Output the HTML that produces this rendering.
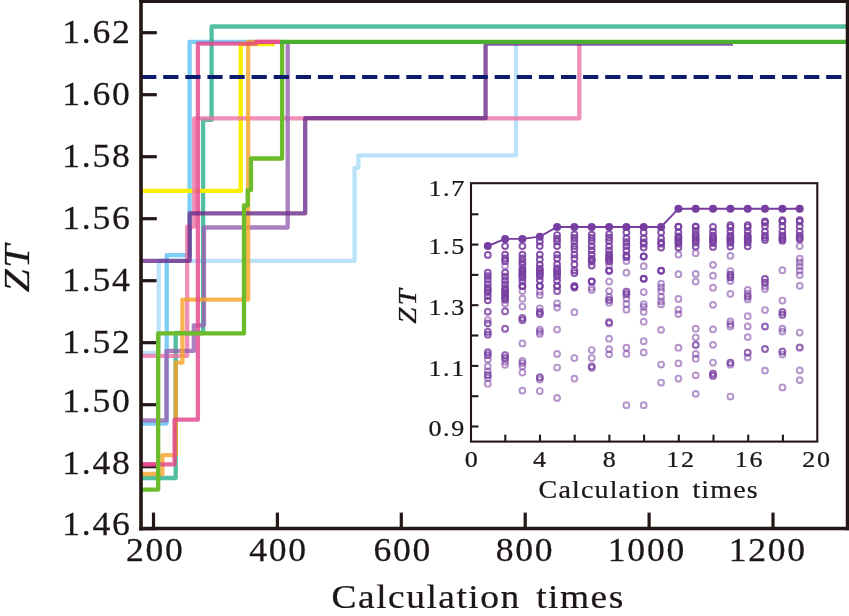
<!DOCTYPE html>
<html><head><meta charset="utf-8"><title>ZT vs calculation times</title>
<style>
html,body{margin:0;padding:0;background:#fff}
svg{display:block}
text{font-family:"Liberation Serif","DejaVu Serif",serif;fill:#1c1614;stroke:#1c1614;stroke-width:0.25px}
.it{font-style:italic}
</style></head><body>
<svg width="849" height="616" viewBox="0 0 849 616">
<rect width="849" height="616" fill="#fff"/>
<g stroke="#231815" stroke-width="3.2" fill="none">
<line x1="141" y1="32.7" x2="156.8" y2="32.7"/>
<line x1="141" y1="94.7" x2="156.8" y2="94.7"/>
<line x1="141" y1="156.7" x2="156.8" y2="156.7"/>
<line x1="141" y1="218.7" x2="156.8" y2="218.7"/>
<line x1="141" y1="280.7" x2="156.8" y2="280.7"/>
<line x1="141" y1="342.7" x2="156.8" y2="342.7"/>
<line x1="141" y1="404.7" x2="156.8" y2="404.7"/>
<line x1="141" y1="466.7" x2="156.8" y2="466.7"/>
<line x1="141" y1="528.7" x2="156.8" y2="528.7"/>
<line x1="153.5" y1="512.6" x2="153.5" y2="528.7"/>
<line x1="277.4" y1="512.6" x2="277.4" y2="528.7"/>
<line x1="401.3" y1="512.6" x2="401.3" y2="528.7"/>
<line x1="525.2" y1="512.6" x2="525.2" y2="528.7"/>
<line x1="649.1" y1="512.6" x2="649.1" y2="528.7"/>
<line x1="773.0" y1="512.6" x2="773.0" y2="528.7"/>
</g>
<g fill="none" stroke-width="4.3" stroke-linejoin="round" stroke-linecap="butt" opacity="1">
<path d="M141,352.8 H158.7 V260.8 H354.6 V167.8 H358.4 V155.3 H516 V43" stroke="#a9dcf8" stroke-opacity="0.80"/>
<path d="M141,423.5 H166.7 V255.2 H189.6 V41.9 H257" stroke="#5ec2f1" stroke-opacity="0.80"/>
<path d="M141,478 H175.7 V333 H203.1 V119.9 H211.6 V26.5 H847" stroke="#27af88" stroke-opacity="0.80"/>
<path d="M141,190.9 H240.7 V44 H274.8" stroke="#f8ee00" stroke-opacity="1.00"/>
<path d="M141,355.8 H187.2 V226.7 H194.2 V118.4 H579.3 V43" stroke="#ec73a6" stroke-opacity="0.80"/>
<path d="M141,420.4 H166.5 V350.9 H193.8 V325.3 H204 V227.5 H287.7 V42.5" stroke="#9660b0" stroke-opacity="0.80"/>
<path d="M141,474 H162.4 V455.1 H175.8 V362.6 H182.4 V299.7 H248.1 V41.9 H257" stroke="#f6a226" stroke-opacity="0.80"/>
<path d="M141,464.4 H158.2" stroke="#e5428b" stroke-opacity="0.80"/>
<path d="M141,464.4 H174.6 V419.7 H197.9 V43.6 H256.3 V41.9 H280" stroke="#e5428b" stroke-opacity="0.80"/>
<path d="M141,260.8 H189.7 V213.3 H305.2 V118.2 H485.6 V43.6 H733" stroke="#6c2d8a" stroke-opacity="0.80"/>
<path d="M141,489.6 H158.2 V333.4 H244 V205.5 H247.7 V190.2 H251 V158.5 H282.1 V41.9 H284" stroke="#6cbb2a" stroke-opacity="1.00"/>
<path d="M280,41.9 H847" stroke="#4aae30" stroke-opacity="1.00"/>
<path d="M257,41.9 H280" stroke="#e8528a" stroke-opacity="1.00"/>
</g>
<line x1="141.1" y1="76.9" x2="846" y2="76.9" stroke="#0c1b6d" stroke-width="4" stroke-dasharray="15.2 6.9"/>
<g stroke="#231815" fill="none">
<line x1="141" y1="0" x2="141" y2="530.4" stroke-width="3.6"/>
<line x1="139.2" y1="528.5" x2="849" y2="528.5" stroke-width="3.6"/>
<line x1="139.2" y1="1.3" x2="849" y2="1.3" stroke-width="3.4"/>
<line x1="847.5" y1="0" x2="847.5" y2="530.3" stroke-width="3.5"/>
</g>
<text transform="translate(131.5,42.5) scale(1.080,1)" font-size="33" letter-spacing="1.6" text-anchor="end">1.62</text>
<text transform="translate(131.5,104.9) scale(1.080,1)" font-size="33" letter-spacing="1.6" text-anchor="end">1.60</text>
<text transform="translate(131.5,166.6) scale(1.080,1)" font-size="33" letter-spacing="1.6" text-anchor="end">1.58</text>
<text transform="translate(131.5,229.1) scale(1.080,1)" font-size="33" letter-spacing="1.6" text-anchor="end">1.56</text>
<text transform="translate(131.5,290.9) scale(1.080,1)" font-size="33" letter-spacing="1.6" text-anchor="end">1.54</text>
<text transform="translate(131.5,352.5) scale(1.080,1)" font-size="33" letter-spacing="1.6" text-anchor="end">1.52</text>
<text transform="translate(131.5,412.2) scale(1.080,1)" font-size="33" letter-spacing="1.6" text-anchor="end">1.50</text>
<text transform="translate(131.5,474.3) scale(1.080,1)" font-size="33" letter-spacing="1.6" text-anchor="end">1.48</text>
<text transform="translate(131.5,534.9) scale(1.080,1)" font-size="33" letter-spacing="1.6" text-anchor="end">1.46</text>
<text transform="translate(155.2,561.2) scale(1.080,1)" font-size="33" letter-spacing="1.6" text-anchor="middle">200</text>
<text transform="translate(278.6,561.2) scale(1.080,1)" font-size="33" letter-spacing="1.6" text-anchor="middle">400</text>
<text transform="translate(402.8,561.2) scale(1.080,1)" font-size="33" letter-spacing="1.6" text-anchor="middle">600</text>
<text transform="translate(525.0,561.2) scale(1.080,1)" font-size="33" letter-spacing="1.6" text-anchor="middle">800</text>
<text transform="translate(646.9,561.2) scale(1.080,1)" font-size="33" letter-spacing="1.6" text-anchor="middle">1000</text>
<text transform="translate(767.8,561.2) scale(1.080,1)" font-size="33" letter-spacing="1.6" text-anchor="middle">1200</text>
<text transform="translate(331.6,607.6) scale(1.1,1)" font-size="34" letter-spacing="1.38" word-spacing="4.2">Calculation times</text>
<text class="it" transform="translate(28.7,268) rotate(-90) scale(1.15,1)" text-anchor="middle" font-size="36" letter-spacing="1">ZT</text>
<g stroke="#231815" stroke-width="2.1" fill="none">
<rect x="471.0" y="183.2" width="346.3" height="258.4" fill="#fff"/>
<line x1="471.0" y1="214.3" x2="478.4" y2="214.3"/>
<line x1="471.0" y1="244.6" x2="478.4" y2="244.6"/>
<line x1="471.0" y1="274.9" x2="478.4" y2="274.9"/>
<line x1="471.0" y1="305.2" x2="478.4" y2="305.2"/>
<line x1="471.0" y1="335.5" x2="478.4" y2="335.5"/>
<line x1="471.0" y1="365.9" x2="478.4" y2="365.9"/>
<line x1="471.0" y1="396.2" x2="478.4" y2="396.2"/>
<line x1="471.0" y1="426.5" x2="478.4" y2="426.5"/>
<line x1="505.3" y1="441.6" x2="505.3" y2="434.6"/>
<line x1="540.0" y1="441.6" x2="540.0" y2="434.6"/>
<line x1="574.7" y1="441.6" x2="574.7" y2="434.6"/>
<line x1="609.4" y1="441.6" x2="609.4" y2="434.6"/>
<line x1="644.1" y1="441.6" x2="644.1" y2="434.6"/>
<line x1="678.8" y1="441.6" x2="678.8" y2="434.6"/>
<line x1="713.5" y1="441.6" x2="713.5" y2="434.6"/>
<line x1="748.2" y1="441.6" x2="748.2" y2="434.6"/>
<line x1="782.9" y1="441.6" x2="782.9" y2="434.6"/>
</g>
<g fill="none" stroke="#773da0" stroke-width="1.95">
<circle cx="487.8" cy="254.9" r="2.9" stroke-opacity="0.88"/><circle cx="487.8" cy="272.6" r="2.9" stroke-opacity="0.88"/><circle cx="487.8" cy="276.1" r="2.9" stroke-opacity="0.88"/><circle cx="487.8" cy="279.7" r="2.9" stroke-opacity="0.88"/><circle cx="487.8" cy="284.0" r="2.9" stroke-opacity="0.88"/><circle cx="487.8" cy="287.9" r="2.9" stroke-opacity="0.88"/><circle cx="487.8" cy="290.0" r="2.9" stroke-opacity="0.88"/><circle cx="487.8" cy="292.1" r="2.9" stroke-opacity="0.88"/><circle cx="487.8" cy="296.0" r="2.9" stroke-opacity="0.88"/><circle cx="487.8" cy="300.3" r="2.9" stroke-opacity="0.88"/><circle cx="487.8" cy="311.6" r="2.9" stroke-opacity="0.55"/><circle cx="487.8" cy="311.8" r="2.9" stroke-opacity="0.55"/><circle cx="487.8" cy="320.0" r="2.9" stroke-opacity="0.55"/><circle cx="487.8" cy="323.3" r="2.9" stroke-opacity="0.55"/><circle cx="487.8" cy="323.5" r="2.9" stroke-opacity="0.55"/><circle cx="487.8" cy="331.7" r="2.9" stroke-opacity="0.55"/><circle cx="487.8" cy="331.9" r="2.9" stroke-opacity="0.55"/><circle cx="487.8" cy="334.6" r="2.9" stroke-opacity="0.55"/><circle cx="487.8" cy="334.8" r="2.9" stroke-opacity="0.55"/><circle cx="487.8" cy="352.1" r="2.9" stroke-opacity="0.55"/><circle cx="487.8" cy="352.3" r="2.9" stroke-opacity="0.55"/><circle cx="487.8" cy="355.0" r="2.9" stroke-opacity="0.55"/><circle cx="487.8" cy="355.2" r="2.9" stroke-opacity="0.55"/><circle cx="487.8" cy="359.4" r="2.9" stroke-opacity="0.55"/><circle cx="487.8" cy="366.3" r="2.9" stroke-opacity="0.55"/><circle cx="487.8" cy="371.3" r="2.9" stroke-opacity="0.55"/><circle cx="487.8" cy="375.0" r="2.9" stroke-opacity="0.55"/><circle cx="487.8" cy="375.2" r="2.9" stroke-opacity="0.55"/><circle cx="487.8" cy="378.2" r="2.9" stroke-opacity="0.55"/><circle cx="487.8" cy="383.7" r="2.9" stroke-opacity="0.55"/>
<circle cx="505.1" cy="246.1" r="2.9" stroke-opacity="0.88"/><circle cx="505.1" cy="254.6" r="2.9" stroke-opacity="0.88"/><circle cx="505.1" cy="258.4" r="2.9" stroke-opacity="0.88"/><circle cx="505.1" cy="261.2" r="2.9" stroke-opacity="0.88"/><circle cx="505.1" cy="265.9" r="2.9" stroke-opacity="0.55"/><circle cx="505.1" cy="272.6" r="2.9" stroke-opacity="0.88"/><circle cx="505.1" cy="276.5" r="2.9" stroke-opacity="0.88"/><circle cx="505.1" cy="280.4" r="2.9" stroke-opacity="0.88"/><circle cx="505.1" cy="284.3" r="2.9" stroke-opacity="0.88"/><circle cx="505.1" cy="288.2" r="2.9" stroke-opacity="0.88"/><circle cx="505.1" cy="290.1" r="2.9" stroke-opacity="0.88"/><circle cx="505.1" cy="292.0" r="2.9" stroke-opacity="0.88"/><circle cx="505.1" cy="293.9" r="2.9" stroke-opacity="0.88"/><circle cx="505.1" cy="295.9" r="2.9" stroke-opacity="0.88"/><circle cx="505.1" cy="297.8" r="2.9" stroke-opacity="0.88"/><circle cx="505.1" cy="299.7" r="2.9" stroke-opacity="0.88"/><circle cx="505.1" cy="303.6" r="2.9" stroke-opacity="0.55"/><circle cx="505.1" cy="311.2" r="2.9" stroke-opacity="0.55"/><circle cx="505.1" cy="311.4" r="2.9" stroke-opacity="0.55"/><circle cx="505.1" cy="328.7" r="2.9" stroke-opacity="0.55"/><circle cx="505.1" cy="328.9" r="2.9" stroke-opacity="0.55"/><circle cx="505.1" cy="355.0" r="2.9" stroke-opacity="0.55"/><circle cx="505.1" cy="355.2" r="2.9" stroke-opacity="0.55"/><circle cx="505.1" cy="358.0" r="2.9" stroke-opacity="0.55"/><circle cx="505.1" cy="358.2" r="2.9" stroke-opacity="0.55"/><circle cx="505.1" cy="361.6" r="2.9" stroke-opacity="0.55"/><circle cx="505.1" cy="364.8" r="2.9" stroke-opacity="0.55"/>
<circle cx="522.4" cy="246.1" r="2.9" stroke-opacity="0.88"/><circle cx="522.4" cy="254.6" r="2.9" stroke-opacity="0.88"/><circle cx="522.4" cy="258.4" r="2.9" stroke-opacity="0.88"/><circle cx="522.4" cy="261.9" r="2.9" stroke-opacity="0.88"/><circle cx="522.4" cy="264.9" r="2.9" stroke-opacity="0.88"/><circle cx="522.4" cy="268.8" r="2.9" stroke-opacity="0.88"/><circle cx="522.4" cy="270.6" r="2.9" stroke-opacity="0.88"/><circle cx="522.4" cy="272.4" r="2.9" stroke-opacity="0.88"/><circle cx="522.4" cy="274.1" r="2.9" stroke-opacity="0.88"/><circle cx="522.4" cy="275.9" r="2.9" stroke-opacity="0.88"/><circle cx="522.4" cy="277.7" r="2.9" stroke-opacity="0.88"/><circle cx="522.4" cy="281.6" r="2.9" stroke-opacity="0.88"/><circle cx="522.4" cy="286.0" r="2.9" stroke-opacity="0.88"/><circle cx="522.4" cy="286.2" r="2.9" stroke-opacity="0.88"/><circle cx="522.4" cy="291.0" r="2.9" stroke-opacity="0.55"/><circle cx="522.4" cy="298.7" r="2.9" stroke-opacity="0.55"/><circle cx="522.4" cy="306.5" r="2.9" stroke-opacity="0.55"/><circle cx="522.4" cy="317.8" r="2.9" stroke-opacity="0.55"/><circle cx="522.4" cy="318.0" r="2.9" stroke-opacity="0.55"/><circle cx="522.4" cy="320.0" r="2.9" stroke-opacity="0.55"/><circle cx="522.4" cy="320.2" r="2.9" stroke-opacity="0.55"/><circle cx="522.4" cy="343.4" r="2.9" stroke-opacity="0.55"/><circle cx="522.4" cy="360.9" r="2.9" stroke-opacity="0.55"/><circle cx="522.4" cy="363.1" r="2.9" stroke-opacity="0.55"/><circle cx="522.4" cy="366.2" r="2.9" stroke-opacity="0.55"/><circle cx="522.4" cy="372.5" r="2.9" stroke-opacity="0.55"/><circle cx="522.4" cy="390.6" r="2.9" stroke-opacity="0.55"/>
<circle cx="539.8" cy="241.4" r="2.9" stroke-opacity="0.88"/><circle cx="539.8" cy="246.1" r="2.9" stroke-opacity="0.88"/><circle cx="539.8" cy="254.6" r="2.9" stroke-opacity="0.88"/><circle cx="539.8" cy="259.4" r="2.9" stroke-opacity="0.88"/><circle cx="539.8" cy="264.6" r="2.9" stroke-opacity="0.88"/><circle cx="539.8" cy="268.5" r="2.9" stroke-opacity="0.88"/><circle cx="539.8" cy="270.4" r="2.9" stroke-opacity="0.88"/><circle cx="539.8" cy="272.3" r="2.9" stroke-opacity="0.88"/><circle cx="539.8" cy="274.2" r="2.9" stroke-opacity="0.88"/><circle cx="539.8" cy="276.1" r="2.9" stroke-opacity="0.88"/><circle cx="539.8" cy="280.0" r="2.9" stroke-opacity="0.88"/><circle cx="539.8" cy="286.0" r="2.9" stroke-opacity="0.88"/><circle cx="539.8" cy="286.2" r="2.9" stroke-opacity="0.88"/><circle cx="539.8" cy="291.7" r="2.9" stroke-opacity="0.55"/><circle cx="539.8" cy="295.2" r="2.9" stroke-opacity="0.55"/><circle cx="539.8" cy="308.3" r="2.9" stroke-opacity="0.55"/><circle cx="539.8" cy="311.9" r="2.9" stroke-opacity="0.55"/><circle cx="539.8" cy="312.1" r="2.9" stroke-opacity="0.55"/><circle cx="539.8" cy="314.1" r="2.9" stroke-opacity="0.55"/><circle cx="539.8" cy="314.3" r="2.9" stroke-opacity="0.55"/><circle cx="539.8" cy="329.5" r="2.9" stroke-opacity="0.55"/><circle cx="539.8" cy="331.7" r="2.9" stroke-opacity="0.55"/><circle cx="539.8" cy="333.9" r="2.9" stroke-opacity="0.55"/><circle cx="539.8" cy="377.2" r="2.9" stroke-opacity="0.55"/><circle cx="539.8" cy="377.4" r="2.9" stroke-opacity="0.55"/><circle cx="539.8" cy="379.6" r="2.9" stroke-opacity="0.55"/><circle cx="539.8" cy="391.0" r="2.9" stroke-opacity="0.55"/>
<circle cx="557.1" cy="235.0" r="2.9" stroke-opacity="0.88"/><circle cx="557.1" cy="238.6" r="2.9" stroke-opacity="0.88"/><circle cx="557.1" cy="241.4" r="2.9" stroke-opacity="0.88"/><circle cx="557.1" cy="246.1" r="2.9" stroke-opacity="0.88"/><circle cx="557.1" cy="254.6" r="2.9" stroke-opacity="0.88"/><circle cx="557.1" cy="258.4" r="2.9" stroke-opacity="0.88"/><circle cx="557.1" cy="264.4" r="2.9" stroke-opacity="0.88"/><circle cx="557.1" cy="268.3" r="2.9" stroke-opacity="0.88"/><circle cx="557.1" cy="270.4" r="2.9" stroke-opacity="0.88"/><circle cx="557.1" cy="272.5" r="2.9" stroke-opacity="0.88"/><circle cx="557.1" cy="274.5" r="2.9" stroke-opacity="0.88"/><circle cx="557.1" cy="276.6" r="2.9" stroke-opacity="0.88"/><circle cx="557.1" cy="280.5" r="2.9" stroke-opacity="0.88"/><circle cx="557.1" cy="286.0" r="2.9" stroke-opacity="0.88"/><circle cx="557.1" cy="286.2" r="2.9" stroke-opacity="0.88"/><circle cx="557.1" cy="291.0" r="2.9" stroke-opacity="0.55"/><circle cx="557.1" cy="291.2" r="2.9" stroke-opacity="0.55"/><circle cx="557.1" cy="303.3" r="2.9" stroke-opacity="0.55"/><circle cx="557.1" cy="307.6" r="2.9" stroke-opacity="0.55"/><circle cx="557.1" cy="329.5" r="2.9" stroke-opacity="0.55"/><circle cx="557.1" cy="353.9" r="2.9" stroke-opacity="0.55"/><circle cx="557.1" cy="367.5" r="2.9" stroke-opacity="0.55"/><circle cx="557.1" cy="397.9" r="2.9" stroke-opacity="0.55"/>
<circle cx="574.4" cy="234.4" r="2.9" stroke-opacity="0.88"/><circle cx="574.4" cy="237.9" r="2.9" stroke-opacity="0.88"/><circle cx="574.4" cy="241.4" r="2.9" stroke-opacity="0.88"/><circle cx="574.4" cy="246.1" r="2.9" stroke-opacity="0.88"/><circle cx="574.4" cy="249.2" r="2.9" stroke-opacity="0.88"/><circle cx="574.4" cy="254.6" r="2.9" stroke-opacity="0.88"/><circle cx="574.4" cy="258.4" r="2.9" stroke-opacity="0.88"/><circle cx="574.4" cy="264.4" r="2.9" stroke-opacity="0.88"/><circle cx="574.4" cy="270.3" r="2.9" stroke-opacity="0.88"/><circle cx="574.4" cy="273.0" r="2.9" stroke-opacity="0.88"/><circle cx="574.4" cy="286.1" r="2.9" stroke-opacity="0.88"/><circle cx="574.4" cy="286.3" r="2.9" stroke-opacity="0.88"/><circle cx="574.4" cy="287.6" r="2.9" stroke-opacity="0.88"/><circle cx="574.4" cy="312.2" r="2.9" stroke-opacity="0.55"/><circle cx="574.4" cy="358.0" r="2.9" stroke-opacity="0.55"/><circle cx="574.4" cy="378.6" r="2.9" stroke-opacity="0.55"/>
<circle cx="591.7" cy="234.6" r="2.9" stroke-opacity="0.88"/><circle cx="591.7" cy="237.9" r="2.9" stroke-opacity="0.88"/><circle cx="591.7" cy="241.3" r="2.9" stroke-opacity="0.88"/><circle cx="591.7" cy="246.1" r="2.9" stroke-opacity="0.88"/><circle cx="591.7" cy="250.2" r="2.9" stroke-opacity="0.88"/><circle cx="591.7" cy="254.6" r="2.9" stroke-opacity="0.88"/><circle cx="591.7" cy="258.5" r="2.9" stroke-opacity="0.88"/><circle cx="591.7" cy="260.1" r="2.9" stroke-opacity="0.88"/><circle cx="591.7" cy="261.6" r="2.9" stroke-opacity="0.88"/><circle cx="591.7" cy="265.5" r="2.9" stroke-opacity="0.88"/><circle cx="591.7" cy="281.3" r="2.9" stroke-opacity="0.88"/><circle cx="591.7" cy="281.5" r="2.9" stroke-opacity="0.88"/><circle cx="591.7" cy="287.6" r="2.9" stroke-opacity="0.55"/><circle cx="591.7" cy="290.0" r="2.9" stroke-opacity="0.55"/><circle cx="591.7" cy="350.0" r="2.9" stroke-opacity="0.55"/><circle cx="591.7" cy="358.0" r="2.9" stroke-opacity="0.55"/><circle cx="591.7" cy="366.3" r="2.9" stroke-opacity="0.55"/><circle cx="591.7" cy="366.5" r="2.9" stroke-opacity="0.55"/><circle cx="591.7" cy="368.0" r="2.9" stroke-opacity="0.55"/>
<circle cx="609.1" cy="234.1" r="2.9" stroke-opacity="0.88"/><circle cx="609.1" cy="237.7" r="2.9" stroke-opacity="0.88"/><circle cx="609.1" cy="241.2" r="2.9" stroke-opacity="0.88"/><circle cx="609.1" cy="246.1" r="2.9" stroke-opacity="0.88"/><circle cx="609.1" cy="250.4" r="2.9" stroke-opacity="0.88"/><circle cx="609.1" cy="254.3" r="2.9" stroke-opacity="0.88"/><circle cx="609.1" cy="256.1" r="2.9" stroke-opacity="0.88"/><circle cx="609.1" cy="257.9" r="2.9" stroke-opacity="0.88"/><circle cx="609.1" cy="259.7" r="2.9" stroke-opacity="0.88"/><circle cx="609.1" cy="261.5" r="2.9" stroke-opacity="0.88"/><circle cx="609.1" cy="265.2" r="2.9" stroke-opacity="0.55"/><circle cx="609.1" cy="270.6" r="2.9" stroke-opacity="0.88"/><circle cx="609.1" cy="270.8" r="2.9" stroke-opacity="0.88"/><circle cx="609.1" cy="281.5" r="2.9" stroke-opacity="0.55"/><circle cx="609.1" cy="291.0" r="2.9" stroke-opacity="0.55"/><circle cx="609.1" cy="296.9" r="2.9" stroke-opacity="0.55"/><circle cx="609.1" cy="299.9" r="2.9" stroke-opacity="0.55"/><circle cx="609.1" cy="300.1" r="2.9" stroke-opacity="0.55"/><circle cx="609.1" cy="302.7" r="2.9" stroke-opacity="0.55"/><circle cx="609.1" cy="322.2" r="2.9" stroke-opacity="0.55"/><circle cx="609.1" cy="322.4" r="2.9" stroke-opacity="0.55"/><circle cx="609.1" cy="323.5" r="2.9" stroke-opacity="0.55"/><circle cx="609.1" cy="338.7" r="2.9" stroke-opacity="0.55"/><circle cx="609.1" cy="349.2" r="2.9" stroke-opacity="0.55"/><circle cx="609.1" cy="354.3" r="2.9" stroke-opacity="0.55"/>
<circle cx="626.4" cy="232.4" r="2.9" stroke-opacity="0.88"/><circle cx="626.4" cy="238.4" r="2.9" stroke-opacity="0.88"/><circle cx="626.4" cy="242.2" r="2.9" stroke-opacity="0.88"/><circle cx="626.4" cy="246.1" r="2.9" stroke-opacity="0.88"/><circle cx="626.4" cy="250.4" r="2.9" stroke-opacity="0.88"/><circle cx="626.4" cy="255.3" r="2.9" stroke-opacity="0.88"/><circle cx="626.4" cy="257.2" r="2.9" stroke-opacity="0.88"/><circle cx="626.4" cy="261.0" r="2.9" stroke-opacity="0.55"/><circle cx="626.4" cy="272.7" r="2.9" stroke-opacity="0.55"/><circle cx="626.4" cy="291.5" r="2.9" stroke-opacity="0.55"/><circle cx="626.4" cy="291.7" r="2.9" stroke-opacity="0.55"/><circle cx="626.4" cy="294.2" r="2.9" stroke-opacity="0.55"/><circle cx="626.4" cy="294.4" r="2.9" stroke-opacity="0.55"/><circle cx="626.4" cy="298.5" r="2.9" stroke-opacity="0.55"/><circle cx="626.4" cy="304.0" r="2.9" stroke-opacity="0.55"/><circle cx="626.4" cy="309.7" r="2.9" stroke-opacity="0.55"/><circle cx="626.4" cy="347.7" r="2.9" stroke-opacity="0.55"/><circle cx="626.4" cy="353.9" r="2.9" stroke-opacity="0.55"/><circle cx="626.4" cy="405.2" r="2.9" stroke-opacity="0.55"/>
<circle cx="643.7" cy="232.4" r="2.9" stroke-opacity="0.88"/><circle cx="643.7" cy="238.4" r="2.9" stroke-opacity="0.88"/><circle cx="643.7" cy="242.3" r="2.9" stroke-opacity="0.88"/><circle cx="643.7" cy="243.7" r="2.9" stroke-opacity="0.88"/><circle cx="643.7" cy="247.6" r="2.9" stroke-opacity="0.88"/><circle cx="643.7" cy="256.3" r="2.9" stroke-opacity="0.88"/><circle cx="643.7" cy="256.5" r="2.9" stroke-opacity="0.88"/><circle cx="643.7" cy="266.2" r="2.9" stroke-opacity="0.55"/><circle cx="643.7" cy="278.6" r="2.9" stroke-opacity="0.88"/><circle cx="643.7" cy="278.8" r="2.9" stroke-opacity="0.88"/><circle cx="643.7" cy="292.0" r="2.9" stroke-opacity="0.55"/><circle cx="643.7" cy="304.0" r="2.9" stroke-opacity="0.55"/><circle cx="643.7" cy="306.8" r="2.9" stroke-opacity="0.55"/><circle cx="643.7" cy="311.9" r="2.9" stroke-opacity="0.55"/><circle cx="643.7" cy="321.7" r="2.9" stroke-opacity="0.55"/><circle cx="643.7" cy="341.2" r="2.9" stroke-opacity="0.55"/><circle cx="643.7" cy="352.4" r="2.9" stroke-opacity="0.55"/><circle cx="643.7" cy="405.2" r="2.9" stroke-opacity="0.55"/>
<circle cx="661.1" cy="232.4" r="2.9" stroke-opacity="0.88"/><circle cx="661.1" cy="238.4" r="2.9" stroke-opacity="0.88"/><circle cx="661.1" cy="242.3" r="2.9" stroke-opacity="0.88"/><circle cx="661.1" cy="243.7" r="2.9" stroke-opacity="0.88"/><circle cx="661.1" cy="247.6" r="2.9" stroke-opacity="0.88"/><circle cx="661.1" cy="270.6" r="2.9" stroke-opacity="0.88"/><circle cx="661.1" cy="270.8" r="2.9" stroke-opacity="0.88"/><circle cx="661.1" cy="283.7" r="2.9" stroke-opacity="0.55"/><circle cx="661.1" cy="287.4" r="2.9" stroke-opacity="0.55"/><circle cx="661.1" cy="291.0" r="2.9" stroke-opacity="0.55"/><circle cx="661.1" cy="296.8" r="2.9" stroke-opacity="0.55"/><circle cx="661.1" cy="301.3" r="2.9" stroke-opacity="0.55"/><circle cx="661.1" cy="304.4" r="2.9" stroke-opacity="0.55"/><circle cx="661.1" cy="329.8" r="2.9" stroke-opacity="0.55"/><circle cx="661.1" cy="364.5" r="2.9" stroke-opacity="0.55"/><circle cx="661.1" cy="382.5" r="2.9" stroke-opacity="0.55"/>
<circle cx="678.4" cy="226.6" r="2.9" stroke-opacity="0.88"/><circle cx="678.4" cy="226.8" r="2.9" stroke-opacity="0.88"/><circle cx="678.4" cy="232.4" r="2.9" stroke-opacity="0.88"/><circle cx="678.4" cy="236.3" r="2.9" stroke-opacity="0.88"/><circle cx="678.4" cy="238.2" r="2.9" stroke-opacity="0.88"/><circle cx="678.4" cy="240.0" r="2.9" stroke-opacity="0.88"/><circle cx="678.4" cy="241.8" r="2.9" stroke-opacity="0.88"/><circle cx="678.4" cy="243.7" r="2.9" stroke-opacity="0.88"/><circle cx="678.4" cy="247.6" r="2.9" stroke-opacity="0.88"/><circle cx="678.4" cy="254.6" r="2.9" stroke-opacity="0.55"/><circle cx="678.4" cy="274.2" r="2.9" stroke-opacity="0.55"/><circle cx="678.4" cy="298.9" r="2.9" stroke-opacity="0.55"/><circle cx="678.4" cy="309.7" r="2.9" stroke-opacity="0.55"/><circle cx="678.4" cy="314.1" r="2.9" stroke-opacity="0.55"/><circle cx="678.4" cy="347.7" r="2.9" stroke-opacity="0.55"/><circle cx="678.4" cy="363.3" r="2.9" stroke-opacity="0.55"/><circle cx="678.4" cy="378.5" r="2.9" stroke-opacity="0.55"/>
<circle cx="695.7" cy="226.6" r="2.9" stroke-opacity="0.88"/><circle cx="695.7" cy="226.8" r="2.9" stroke-opacity="0.88"/><circle cx="695.7" cy="230.6" r="2.9" stroke-opacity="0.88"/><circle cx="695.7" cy="234.5" r="2.9" stroke-opacity="0.88"/><circle cx="695.7" cy="236.5" r="2.9" stroke-opacity="0.88"/><circle cx="695.7" cy="238.6" r="2.9" stroke-opacity="0.88"/><circle cx="695.7" cy="240.6" r="2.9" stroke-opacity="0.88"/><circle cx="695.7" cy="242.6" r="2.9" stroke-opacity="0.88"/><circle cx="695.7" cy="246.5" r="2.9" stroke-opacity="0.88"/><circle cx="695.7" cy="253.2" r="2.9" stroke-opacity="0.55"/><circle cx="695.7" cy="273.9" r="2.9" stroke-opacity="0.55"/><circle cx="695.7" cy="281.5" r="2.9" stroke-opacity="0.55"/><circle cx="695.7" cy="328.7" r="2.9" stroke-opacity="0.55"/><circle cx="695.7" cy="337.5" r="2.9" stroke-opacity="0.55"/><circle cx="695.7" cy="344.8" r="2.9" stroke-opacity="0.55"/><circle cx="695.7" cy="345.0" r="2.9" stroke-opacity="0.55"/><circle cx="695.7" cy="353.9" r="2.9" stroke-opacity="0.55"/><circle cx="695.7" cy="358.7" r="2.9" stroke-opacity="0.55"/><circle cx="695.7" cy="375.3" r="2.9" stroke-opacity="0.55"/><circle cx="695.7" cy="393.8" r="2.9" stroke-opacity="0.55"/>
<circle cx="713.0" cy="226.9" r="2.9" stroke-opacity="0.88"/><circle cx="713.0" cy="231.6" r="2.9" stroke-opacity="0.88"/><circle cx="713.0" cy="235.5" r="2.9" stroke-opacity="0.88"/><circle cx="713.0" cy="237.4" r="2.9" stroke-opacity="0.88"/><circle cx="713.0" cy="239.2" r="2.9" stroke-opacity="0.88"/><circle cx="713.0" cy="241.1" r="2.9" stroke-opacity="0.88"/><circle cx="713.0" cy="243.0" r="2.9" stroke-opacity="0.88"/><circle cx="713.0" cy="246.9" r="2.9" stroke-opacity="0.88"/><circle cx="713.0" cy="264.8" r="2.9" stroke-opacity="0.55"/><circle cx="713.0" cy="275.7" r="2.9" stroke-opacity="0.55"/><circle cx="713.0" cy="287.7" r="2.9" stroke-opacity="0.55"/><circle cx="713.0" cy="304.8" r="2.9" stroke-opacity="0.55"/><circle cx="713.0" cy="329.3" r="2.9" stroke-opacity="0.55"/><circle cx="713.0" cy="344.8" r="2.9" stroke-opacity="0.55"/><circle cx="713.0" cy="362.5" r="2.9" stroke-opacity="0.55"/><circle cx="713.0" cy="373.5" r="2.9" stroke-opacity="0.55"/><circle cx="713.0" cy="373.7" r="2.9" stroke-opacity="0.55"/><circle cx="713.0" cy="375.7" r="2.9" stroke-opacity="0.55"/><circle cx="713.0" cy="375.9" r="2.9" stroke-opacity="0.55"/>
<circle cx="730.4" cy="225.2" r="2.9" stroke-opacity="0.88"/><circle cx="730.4" cy="227.0" r="2.9" stroke-opacity="0.88"/><circle cx="730.4" cy="231.6" r="2.9" stroke-opacity="0.88"/><circle cx="730.4" cy="235.5" r="2.9" stroke-opacity="0.88"/><circle cx="730.4" cy="237.3" r="2.9" stroke-opacity="0.88"/><circle cx="730.4" cy="239.1" r="2.9" stroke-opacity="0.88"/><circle cx="730.4" cy="240.9" r="2.9" stroke-opacity="0.88"/><circle cx="730.4" cy="242.7" r="2.9" stroke-opacity="0.88"/><circle cx="730.4" cy="246.5" r="2.9" stroke-opacity="0.88"/><circle cx="730.4" cy="255.8" r="2.9" stroke-opacity="0.55"/><circle cx="730.4" cy="271.0" r="2.9" stroke-opacity="0.55"/><circle cx="730.4" cy="274.6" r="2.9" stroke-opacity="0.88"/><circle cx="730.4" cy="277.4" r="2.9" stroke-opacity="0.88"/><circle cx="730.4" cy="281.1" r="2.9" stroke-opacity="0.55"/><circle cx="730.4" cy="293.8" r="2.9" stroke-opacity="0.55"/><circle cx="730.4" cy="321.3" r="2.9" stroke-opacity="0.55"/><circle cx="730.4" cy="324.2" r="2.9" stroke-opacity="0.55"/><circle cx="730.4" cy="326.4" r="2.9" stroke-opacity="0.55"/><circle cx="730.4" cy="362.5" r="2.9" stroke-opacity="0.55"/><circle cx="730.4" cy="362.7" r="2.9" stroke-opacity="0.55"/><circle cx="730.4" cy="364.7" r="2.9" stroke-opacity="0.55"/><circle cx="730.4" cy="396.5" r="2.9" stroke-opacity="0.55"/>
<circle cx="747.7" cy="225.2" r="2.9" stroke-opacity="0.88"/><circle cx="747.7" cy="227.0" r="2.9" stroke-opacity="0.88"/><circle cx="747.7" cy="231.6" r="2.9" stroke-opacity="0.88"/><circle cx="747.7" cy="235.5" r="2.9" stroke-opacity="0.88"/><circle cx="747.7" cy="237.2" r="2.9" stroke-opacity="0.88"/><circle cx="747.7" cy="238.9" r="2.9" stroke-opacity="0.88"/><circle cx="747.7" cy="240.7" r="2.9" stroke-opacity="0.88"/><circle cx="747.7" cy="242.4" r="2.9" stroke-opacity="0.88"/><circle cx="747.7" cy="246.3" r="2.9" stroke-opacity="0.88"/><circle cx="747.7" cy="289.9" r="2.9" stroke-opacity="0.55"/><circle cx="747.7" cy="293.5" r="2.9" stroke-opacity="0.55"/><circle cx="747.7" cy="296.4" r="2.9" stroke-opacity="0.55"/><circle cx="747.7" cy="296.6" r="2.9" stroke-opacity="0.55"/><circle cx="747.7" cy="299.4" r="2.9" stroke-opacity="0.55"/><circle cx="747.7" cy="316.2" r="2.9" stroke-opacity="0.55"/><circle cx="747.7" cy="326.4" r="2.9" stroke-opacity="0.55"/><circle cx="747.7" cy="337.1" r="2.9" stroke-opacity="0.55"/><circle cx="747.7" cy="352.5" r="2.9" stroke-opacity="0.55"/><circle cx="747.7" cy="352.7" r="2.9" stroke-opacity="0.55"/><circle cx="747.7" cy="357.4" r="2.9" stroke-opacity="0.55"/>
<circle cx="765.0" cy="221.3" r="2.9" stroke-opacity="0.88"/><circle cx="765.0" cy="222.5" r="2.9" stroke-opacity="0.88"/><circle cx="765.0" cy="226.2" r="2.9" stroke-opacity="0.88"/><circle cx="765.0" cy="231.6" r="2.9" stroke-opacity="0.88"/><circle cx="765.0" cy="235.5" r="2.9" stroke-opacity="0.88"/><circle cx="765.0" cy="237.8" r="2.9" stroke-opacity="0.88"/><circle cx="765.0" cy="240.0" r="2.9" stroke-opacity="0.88"/><circle cx="765.0" cy="278.9" r="2.9" stroke-opacity="0.88"/><circle cx="765.0" cy="282.5" r="2.9" stroke-opacity="0.88"/><circle cx="765.0" cy="286.2" r="2.9" stroke-opacity="0.55"/><circle cx="765.0" cy="289.1" r="2.9" stroke-opacity="0.55"/><circle cx="765.0" cy="310.0" r="2.9" stroke-opacity="0.55"/><circle cx="765.0" cy="326.4" r="2.9" stroke-opacity="0.55"/><circle cx="765.0" cy="326.6" r="2.9" stroke-opacity="0.55"/><circle cx="765.0" cy="348.9" r="2.9" stroke-opacity="0.55"/><circle cx="765.0" cy="349.1" r="2.9" stroke-opacity="0.55"/><circle cx="765.0" cy="370.6" r="2.9" stroke-opacity="0.55"/>
<circle cx="782.4" cy="220.2" r="2.9" stroke-opacity="0.88"/><circle cx="782.4" cy="221.5" r="2.9" stroke-opacity="0.88"/><circle cx="782.4" cy="226.2" r="2.9" stroke-opacity="0.88"/><circle cx="782.4" cy="231.6" r="2.9" stroke-opacity="0.88"/><circle cx="782.4" cy="235.5" r="2.9" stroke-opacity="0.88"/><circle cx="782.4" cy="237.2" r="2.9" stroke-opacity="0.88"/><circle cx="782.4" cy="239.0" r="2.9" stroke-opacity="0.88"/><circle cx="782.4" cy="240.7" r="2.9" stroke-opacity="0.88"/><circle cx="782.4" cy="270.2" r="2.9" stroke-opacity="0.55"/><circle cx="782.4" cy="300.5" r="2.9" stroke-opacity="0.55"/><circle cx="782.4" cy="311.8" r="2.9" stroke-opacity="0.55"/><circle cx="782.4" cy="312.0" r="2.9" stroke-opacity="0.55"/><circle cx="782.4" cy="314.7" r="2.9" stroke-opacity="0.55"/><circle cx="782.4" cy="314.9" r="2.9" stroke-opacity="0.55"/><circle cx="782.4" cy="328.6" r="2.9" stroke-opacity="0.55"/><circle cx="782.4" cy="331.5" r="2.9" stroke-opacity="0.55"/><circle cx="782.4" cy="351.4" r="2.9" stroke-opacity="0.55"/><circle cx="782.4" cy="351.6" r="2.9" stroke-opacity="0.55"/><circle cx="782.4" cy="354.5" r="2.9" stroke-opacity="0.55"/><circle cx="782.4" cy="387.4" r="2.9" stroke-opacity="0.55"/>
<circle cx="799.7" cy="220.2" r="2.9" stroke-opacity="0.88"/><circle cx="799.7" cy="221.5" r="2.9" stroke-opacity="0.88"/><circle cx="799.7" cy="226.2" r="2.9" stroke-opacity="0.88"/><circle cx="799.7" cy="231.6" r="2.9" stroke-opacity="0.88"/><circle cx="799.7" cy="235.5" r="2.9" stroke-opacity="0.88"/><circle cx="799.7" cy="237.5" r="2.9" stroke-opacity="0.88"/><circle cx="799.7" cy="239.3" r="2.9" stroke-opacity="0.88"/><circle cx="799.7" cy="246.0" r="2.9" stroke-opacity="0.55"/><circle cx="799.7" cy="258.7" r="2.9" stroke-opacity="0.55"/><circle cx="799.7" cy="262.4" r="2.9" stroke-opacity="0.55"/><circle cx="799.7" cy="266.3" r="2.9" stroke-opacity="0.55"/><circle cx="799.7" cy="270.6" r="2.9" stroke-opacity="0.55"/><circle cx="799.7" cy="275.0" r="2.9" stroke-opacity="0.55"/><circle cx="799.7" cy="285.8" r="2.9" stroke-opacity="0.55"/><circle cx="799.7" cy="332.5" r="2.9" stroke-opacity="0.55"/><circle cx="799.7" cy="347.4" r="2.9" stroke-opacity="0.55"/><circle cx="799.7" cy="347.6" r="2.9" stroke-opacity="0.55"/><circle cx="799.7" cy="370.3" r="2.9" stroke-opacity="0.55"/><circle cx="799.7" cy="380.1" r="2.9" stroke-opacity="0.55"/>
</g>
<polyline points="487.8,246.0 505.1,238.9 522.4,238.9 539.8,236.7 557.1,227.0 574.4,227.0 591.7,227.0 609.1,227.0 626.4,227.0 643.7,227.0 661.1,227.0 678.4,208.7 695.7,208.7 713.0,208.7 730.4,208.7 747.7,208.7 765.0,208.7 782.4,208.7 799.7,208.7" fill="none" stroke="#773da0" stroke-width="1.9"/>
<g fill="#773da0">
<circle cx="487.8" cy="246.0" r="4.0"/><circle cx="505.1" cy="238.9" r="4.0"/><circle cx="522.4" cy="238.9" r="4.0"/><circle cx="539.8" cy="236.7" r="4.0"/><circle cx="557.1" cy="227.0" r="4.0"/><circle cx="574.4" cy="227.0" r="4.0"/><circle cx="591.7" cy="227.0" r="4.0"/><circle cx="609.1" cy="227.0" r="4.0"/><circle cx="626.4" cy="227.0" r="4.0"/><circle cx="643.7" cy="227.0" r="4.0"/><circle cx="661.1" cy="227.0" r="4.0"/><circle cx="678.4" cy="208.7" r="4.0"/><circle cx="695.7" cy="208.7" r="4.0"/><circle cx="713.0" cy="208.7" r="4.0"/><circle cx="730.4" cy="208.7" r="4.0"/><circle cx="747.7" cy="208.7" r="4.0"/><circle cx="765.0" cy="208.7" r="4.0"/><circle cx="782.4" cy="208.7" r="4.0"/><circle cx="799.7" cy="208.7" r="4.0"/>
</g>
<text transform="translate(465.9,196.0) scale(1.120,1)" font-size="23.3" letter-spacing="1.45" text-anchor="end">1.7</text>
<text transform="translate(465.9,254.0) scale(1.120,1)" font-size="23.3" letter-spacing="1.45" text-anchor="end">1.5</text>
<text transform="translate(465.9,315.0) scale(1.120,1)" font-size="23.3" letter-spacing="1.45" text-anchor="end">1.3</text>
<text transform="translate(465.9,376.0) scale(1.120,1)" font-size="23.3" letter-spacing="1.45" text-anchor="end">1.1</text>
<text transform="translate(465.9,436.0) scale(1.120,1)" font-size="23.3" letter-spacing="1.45" text-anchor="end">0.9</text>
<text transform="translate(472.2,466.5) scale(1.120,1)" font-size="23.3" letter-spacing="1.45" text-anchor="middle">0</text>
<text transform="translate(540.4,466.5) scale(1.120,1)" font-size="23.3" letter-spacing="1.45" text-anchor="middle">4</text>
<text transform="translate(610.1,466.5) scale(1.120,1)" font-size="23.3" letter-spacing="1.45" text-anchor="middle">8</text>
<text transform="translate(680.9,466.5) scale(1.120,1)" font-size="23.3" letter-spacing="1.45" text-anchor="middle">12</text>
<text transform="translate(749.5,466.5) scale(1.120,1)" font-size="23.3" letter-spacing="1.45" text-anchor="middle">16</text>
<text transform="translate(817.0,466.5) scale(1.120,1)" font-size="23.3" letter-spacing="1.45" text-anchor="middle">20</text>
<text transform="translate(538.6,497.8) scale(1.1,1)" font-size="25.5" letter-spacing="1.03" word-spacing="3.6">Calculation times</text>
<text class="it" transform="translate(416.4,305.4) rotate(-90) scale(1.15,1)" text-anchor="middle" font-size="25.5" letter-spacing="1.8">ZT</text>
</svg>
</body></html>
